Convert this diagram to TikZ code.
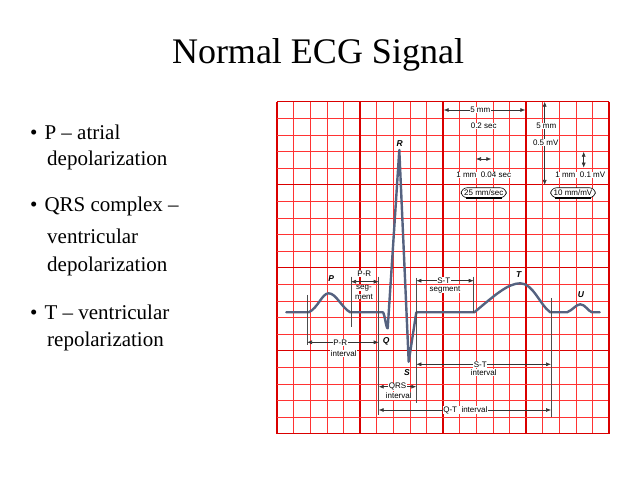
\documentclass[tikz,border=0pt]{standalone}
\usepackage{fontspec}
\setmainfont{Liberation Serif}
\setsansfont{Liberation Sans}
\usetikzlibrary{arrows.meta}
\begin{document}
\begin{tikzpicture}[x=1pt,y=-1pt,
  lbl/.style={font=\sffamily\fontsize{8}{9}\selectfont,fill=white,inner sep=0.6pt},
  tag/.style={font=\sffamily\bfseries\itshape\fontsize{8.5}{9}\selectfont,inner sep=0.5pt},
  dim/.style={black!80,line width=0.6pt,{Latex[length=5pt,width=4pt]}-{Latex[length=5pt,width=4pt]}},
  mark line/.style={black!70,line width=0.5pt},
  oval/.style={draw,rounded corners=6pt,line width=0.6pt,font=\sffamily\fontsize{8}{9}\selectfont,fill=white,inner xsep=3pt,inner ysep=2pt},
  bul/.style={anchor=west,font=\fontsize{21}{24}\selectfont,inner sep=0}]
\useasboundingbox (0,0) rectangle (638,478);
\fill[white] (0,0) rectangle (638,478);
% title and bullets
\node (title) at (318,55) {\fontsize{36}{40}\selectfont Normal ECG Signal};
\node[bul] (b1a) at (30,132) {\textbullet\hspace{7pt}P -- atrial};
\node[bul] (b1b) at (47,160) {depolarization};
\node[bul] (b2a) at (30,206) {\textbullet\hspace{7pt}QRS complex --};
\node[bul] (b2b) at (47,236) {ventricular};
\node[bul] (b2c) at (47,266) {depolarization};
\node[bul] (b3a) at (30,312) {\textbullet\hspace{7pt}T -- ventricular};
\node[bul] (b3b) at (47,341) {repolarization};
% grid
\begin{scope}[shift={(277,101.7)},x=16.6pt,y=-16.6pt]
\foreach \i in {0,...,20}{
  \pgfmathtruncatemacro{\m}{mod(\i,5)}
  \ifnum\m=0
    \draw[red!85!black,line width=1.1pt] (\i,0) -- (\i,20);
    \draw[red!85!black,line width=1.1pt] (0,\i) -- (20,\i);
  \else
    \draw[red!80!white,line width=0.6pt] (\i,0) -- (\i,20);
    \draw[red!80!white,line width=0.6pt] (0,\i) -- (20,\i);
  \fi}
\end{scope}
% trace
\draw[color={rgb,255:red,85;green,98;blue,128},line width=2.4pt,line join=round,line cap=round]
 (286.3,312.3) -- (308.7,312.3)
 .. controls (318,308) and (322,293.3) .. (328.7,293.3)
 .. controls (336,293.3) and (342,308) .. (350.3,312.3)
 -- (383,312.3) .. controls (385,315) and (386,328.3) .. (387.7,328.3)
 -- (399.3,150) -- (408.7,361.7) -- (416.3,312.3) -- (474.3,312.3)
 .. controls (495,295) and (508,283.3) .. (520.3,283.3)
 .. controls (533,283.3) and (540,305) .. (550.3,312.3)
 -- (567,312.3) .. controls (573,310) and (576,304.3) .. (580.3,304.3)
 .. controls (585,304.3) and (588,311) .. (592,312.3) -- (599.7,312.3);
% wave labels
\node[tag] (P) at (331.3,278.3) {P};
\node[tag] (T) at (518.7,275) {T};
\node[tag] (U) at (581,294.3) {U};
\node[tag] (Q) at (386.3,341) {Q};
\node[tag] (S) at (407,372.7) {S};
\node[tag] (R) at (399.7,143.3) {R};
% marker lines
\coordinate (m1a) at (307,295); \coordinate (m1b) at (307,345);
\coordinate (m2a) at (351,276.7); \coordinate (m2b) at (351,326.7);
\coordinate (m3a) at (378.7,276.7); \coordinate (m3b) at (378.7,415);
\coordinate (m4a) at (416.3,278); \coordinate (m4b) at (416.3,403);
\coordinate (m5a) at (473.7,276.7); \coordinate (m5b) at (473.7,313);
\coordinate (m6a) at (551,298); \coordinate (m6b) at (551,416.7);
\foreach \k in {1,...,6} \draw[mark line] (m\k a) -- (m\k b);
% interval arrows
\coordinate (pri1) at (307,342.3); \coordinate (pri2) at (378.7,342.3);
\draw[dim] (pri1) -- (pri2);
\node[lbl] (prit) at (340.3,342.3) {P-R};
\node[lbl] (prib) at (343.7,353.3) {interval};
\coordinate (prs1) at (351,281.7); \coordinate (prs2) at (378.7,281.7);
\draw[dim] (prs1) -- (prs2);
\node[lbl] (prst) at (364.3,273.3) {P-R};
\node[lbl,inner sep=0pt] (prsm) at (364,288) {seg-};
\node[lbl,inner sep=0pt] (prsb) at (364,296.5) {ment};
\coordinate (sts1) at (416.3,280.7); \coordinate (sts2) at (473.7,280.7);
\draw[dim] (sts1) -- (sts2);
\node[lbl] (stst) at (443.7,280.7) {S-T};
\node[lbl] (stsb) at (445,289.3) {segment};
\coordinate (sti1) at (416.3,364.3); \coordinate (sti2) at (551,364.3);
\draw[dim] (sti1) -- (sti2);
\node[lbl] (stit) at (480.3,364.3) {S-T};
\node[lbl] (stib) at (483.7,372.7) {interval};
\coordinate (qrs1) at (378.7,386.7); \coordinate (qrs2) at (416.3,386.7);
\draw[dim] (qrs1) -- (qrs2);
\node[lbl] (qrst) at (397.5,386.7) {QRS};
\node[lbl] (qrsb) at (398.7,396) {interval};
\coordinate (qt1) at (378.7,410); \coordinate (qt2) at (551,410);
\draw[dim] (qt1) -- (qt2);
\node[lbl] (qtt) at (465.3,410) {Q-T\ \ interval};
% legend
\coordinate (h1) at (443.7,110); \coordinate (h2) at (525.3,110);
\draw[dim] (h1) -- (h2);
\node[lbl] (h5) at (480.3,110) {5 mm};
\node[lbl] (h02) at (483.7,126) {0.2 sec};
\coordinate (v1) at (544.7,101.7); \coordinate (v2) at (544.7,185);
\draw[dim] (v1) -- (v2);
\node[lbl] (v5) at (546.3,126) {5 mm};
\node[lbl] (v05) at (545.7,142.7) {0.5 mV};
\coordinate (sh1) at (476,159); \coordinate (sh2) at (491.3,159);
\draw[dim] (sh1) -- (sh2);
\coordinate (sv1) at (583.7,151.7); \coordinate (sv2) at (583.7,167.7);
\draw[dim] (sv1) -- (sv2);
\node[lbl] (s004) at (483.7,175) {1 mm\ \ 0.04 sec};
\node[lbl] (s01) at (580.3,175) {1 mm\ \ 0.1 mV};
\node[oval] (o1) at (483.7,192.7) {25 mm/sec};
\draw[line width=1.4pt] ([xshift=5pt]o1.south west) -- ([xshift=-5pt]o1.south east);
\node[oval] (o2) at (573,192.7) {10 mm/mV};
\draw[line width=1.4pt] ([xshift=5pt]o2.south west) -- ([xshift=-5pt]o2.south east);
\end{tikzpicture}
\end{document}
